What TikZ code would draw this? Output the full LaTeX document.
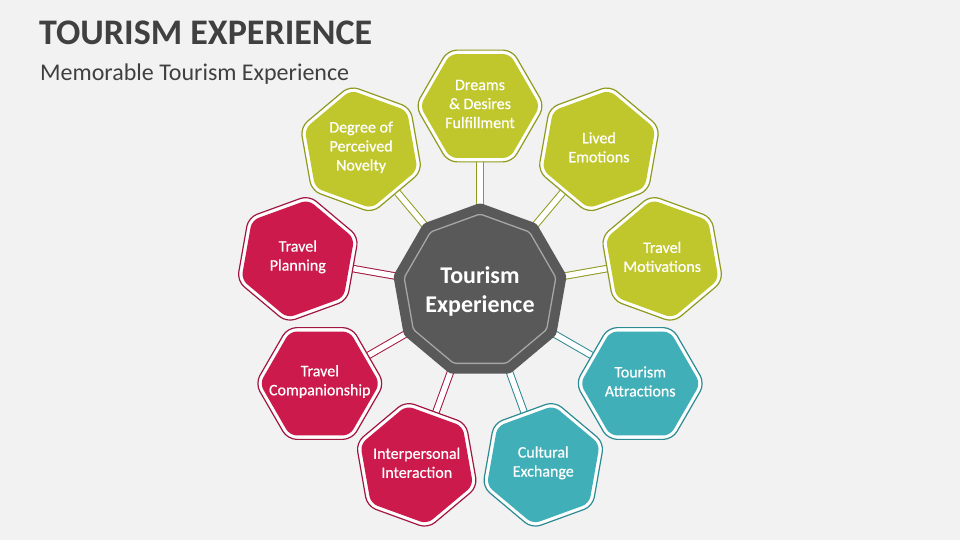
\documentclass[tikz,border=0pt]{standalone}
\usepackage{fontspec}
\setmainfont{Carlito}
\newfontfamily\hexfont[FakeBold=0.6]{Carlito}
\definecolor{bg}{HTML}{F2F2F2}
\definecolor{titlec}{HTML}{404040}
\definecolor{cG}{HTML}{C0C72C}
\definecolor{lG}{HTML}{8F9A1F}
\definecolor{cR}{HTML}{CB1A4B}
\definecolor{lR}{HTML}{A1163F}
\definecolor{cT}{HTML}{41AFB8}
\definecolor{lT}{HTML}{2C8A93}
\definecolor{hubc}{HTML}{595959}
\definecolor{hubline}{HTML}{A6A6A6}
\begin{document}
\begin{tikzpicture}[x=1pt,y=1pt,
  hextext/.style={text=white, align=center, font=\hexfont\fontsize{16}{19}\selectfont, inner sep=0pt},
  link/.style={line width=1pt, double=white, double distance=5.5pt, line cap=butt},
  hexouter/.style={fill=white, line width=1.2pt, rounded corners=9pt},
  hexinner/.style={rounded corners=7pt},
]
\fill[bg] (0,0) rectangle (960,540);
\useasboundingbox (0,0) rectangle (960,540);
\node[anchor=base west, inner sep=0pt, text=titlec, font=\fontsize{36}{40}\selectfont\bfseries] (title) at (39,495) {TOURISM EXPERIENCE};
\node[anchor=base west, inner sep=0pt, text=titlec, font=\fontsize{24}{28}\selectfont] (subtitle) at (40,459) {Memorable Tourism Experience};
\coordinate (C) at (480,249);
% connectors
\foreach \a/\c [count=\i] in {90/G,50/G,10/G,-30/T,-70/T,-110/R,-150/R,170/R,130/G}{
  \coordinate (H\i) at ({480+185*cos(\a)},{249+185*sin(\a)});
  \draw[link, draw=l\c] (C) -- (H\i);
}
% hub
\fill[hubc, rounded corners=3pt, shift={(C)}] (90:88) \foreach \k in {1,...,8}{ -- ({90+40*\k}:88)} -- cycle;
\draw[hubline, line width=1.3pt, rounded corners=2pt, shift={(C)}] (90:77) \foreach \k in {1,...,8}{ -- ({90+40*\k}:77)} -- cycle;
\node[text=white, align=center, font=\fontsize{24}{29}\selectfont\bfseries, inner sep=0pt] (hub) at (C) {Tourism\\Experience};
% hexagons
\foreach \a/\c/\t [count=\i] in {
  90/G/{Dreams\\\& Desires\\Fulfillment},
  50/G/{Lived\\Emotions},
  10/G/{Travel\\Motivations},
  -30/T/{Tourism\\Attractions},
  -70/T/{Cultural\\Exchange},
  -110/R/{Interpersonal\\Interaction},
  -150/R/{Travel\\Companionship},
  170/R/{Travel\\Planning},
  130/G/{Degree of\\Perceived\\Novelty}}{
  \coordinate (H\i) at ({480+185*cos(\a)},{249+185*sin(\a)});
  \filldraw[hexouter, draw=l\c, shift={(H\i)}] ({\a+30}:64.5) \foreach \j in {1,...,5}{ -- ({\a+30+60*\j}:64.5)} -- cycle;
  \fill[hexinner, c\c, shift={(H\i)}] ({\a+30}:60) \foreach \j in {1,...,5}{ -- ({\a+30+60*\j}:60)} -- cycle;
  \node[hextext, yshift=2pt] (T\i) at (H\i) {\t};
}
\end{tikzpicture}
\end{document}
